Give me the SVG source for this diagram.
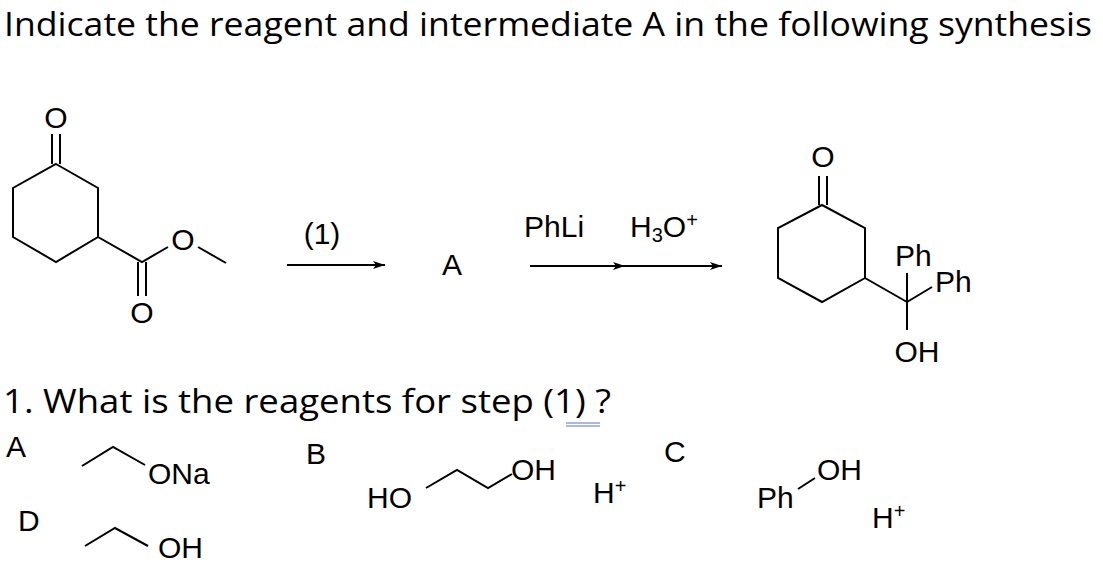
<svg xmlns="http://www.w3.org/2000/svg" width="1103" height="568" viewBox="0 0 1103 568">
<defs><marker id="ah" markerWidth="12" markerHeight="8" refX="12" refY="4" orient="auto" markerUnits="userSpaceOnUse"><path d="M0,0 L12,4 L0,8 L3,4Z" fill="#000"/></marker></defs>
<style>
.b{stroke:#000;stroke-width:2;fill:none}
.t{font-family:"Open Sans","Liberation Sans",sans-serif;font-size:33px;fill:#000}
.a{font-family:"Liberation Sans",Arial,sans-serif;font-size:30px;fill:#000}
</style>
<rect width="1103" height="568" fill="#fff"/>
<text class="t" x="4" y="36" textLength="1088" lengthAdjust="spacingAndGlyphs">Indicate the reagent and intermediate A in the following synthesis</text>
<g id="sm">
<polygon class="b" points="56,164 98,188 98,237 56,262 13,237 13,188"/>
<line class="b" x1="52" y1="134" x2="52" y2="164"/><line class="b" x1="60" y1="134" x2="60" y2="164"/>
<polyline class="b" points="98,237 142,262 168,247"/>
<line class="b" x1="198" y1="247" x2="226" y2="263"/>
<line class="b" x1="138" y1="262" x2="138" y2="296"/><line class="b" x1="146" y1="262" x2="146" y2="296"/>
<text class="a" x="56" y="128" text-anchor="middle">O</text>
<text class="a" x="183" y="250" text-anchor="middle">O</text>
<text class="a" x="142" y="323" text-anchor="middle">O</text>
</g>
<g id="pr">
<polygon class="b" points="822,205 865,228 865,278 822,302 778,278 778,228"/>
<line class="b" x1="819" y1="176" x2="819" y2="205"/><line class="b" x1="827" y1="176" x2="827" y2="205"/>
<line class="b" x1="865" y1="278" x2="907" y2="302"/>
<line class="b" x1="907" y1="273" x2="907" y2="330"/>
<line class="b" x1="907" y1="302" x2="932" y2="287"/>
<text class="a" x="823" y="167" text-anchor="middle">O</text>
<text class="a" x="895" y="266">Ph</text>
<text class="a" x="935" y="292">Ph</text>
<text class="a" x="917" y="362" text-anchor="middle">OH</text>
</g>
<g id="connectors">
<line class="b" x1="287" y1="265" x2="385" y2="265" marker-end="url(#ah)"/>
<line class="b" x1="530" y1="266" x2="625" y2="266" marker-end="url(#ah)"/>
<line class="b" x1="623" y1="266" x2="722" y2="266" marker-end="url(#ah)"/>
</g>
<text class="a" x="322" y="244" text-anchor="middle">(1)</text>
<text class="a" x="452" y="275" text-anchor="middle">A</text>
<text class="a" x="524" y="237">PhLi</text>
<text class="a" x="630" y="237">H<tspan font-size="20" dy="5">3</tspan><tspan dy="-5">O</tspan><tspan font-size="20" dy="-10">+</tspan></text>
<text class="t" x="3" y="413" textLength="608" lengthAdjust="spacingAndGlyphs">1. What is the reagents for step (1) ?</text>
<line x1="566" y1="423" x2="600" y2="423" stroke="#5a6fd0" stroke-width="1"/>
<line x1="566" y1="426" x2="600" y2="426" stroke="#5a6fd0" stroke-width="1"/>
<g id="opts">
<text class="a" x="6" y="457">A</text>
<polyline class="b" points="82,466 113,447 145,465"/>
<text class="a" x="148" y="484">ONa</text>
<text class="a" x="306" y="464">B</text>
<text class="a" x="367" y="508">HO</text>
<polyline class="b" points="426,488 457,470 488,488 512,474"/>
<text class="a" x="511" y="480">OH</text>
<text class="a" x="593" y="503">H<tspan font-size="20" dy="-10">+</tspan></text>
<text class="a" x="664" y="462">C</text>
<text class="a" x="757" y="508">Ph</text>
<line class="b" x1="798" y1="489" x2="815" y2="478"/>
<text class="a" x="817" y="480">OH</text>
<text class="a" x="872" y="528">H<tspan font-size="20" dy="-10">+</tspan></text>
<text class="a" x="18" y="531" font-size="23">D</text>
<polyline class="b" points="85,546 115,528 148,546"/>
<text class="a" x="158" y="558">OH</text>
</g>
</svg>
